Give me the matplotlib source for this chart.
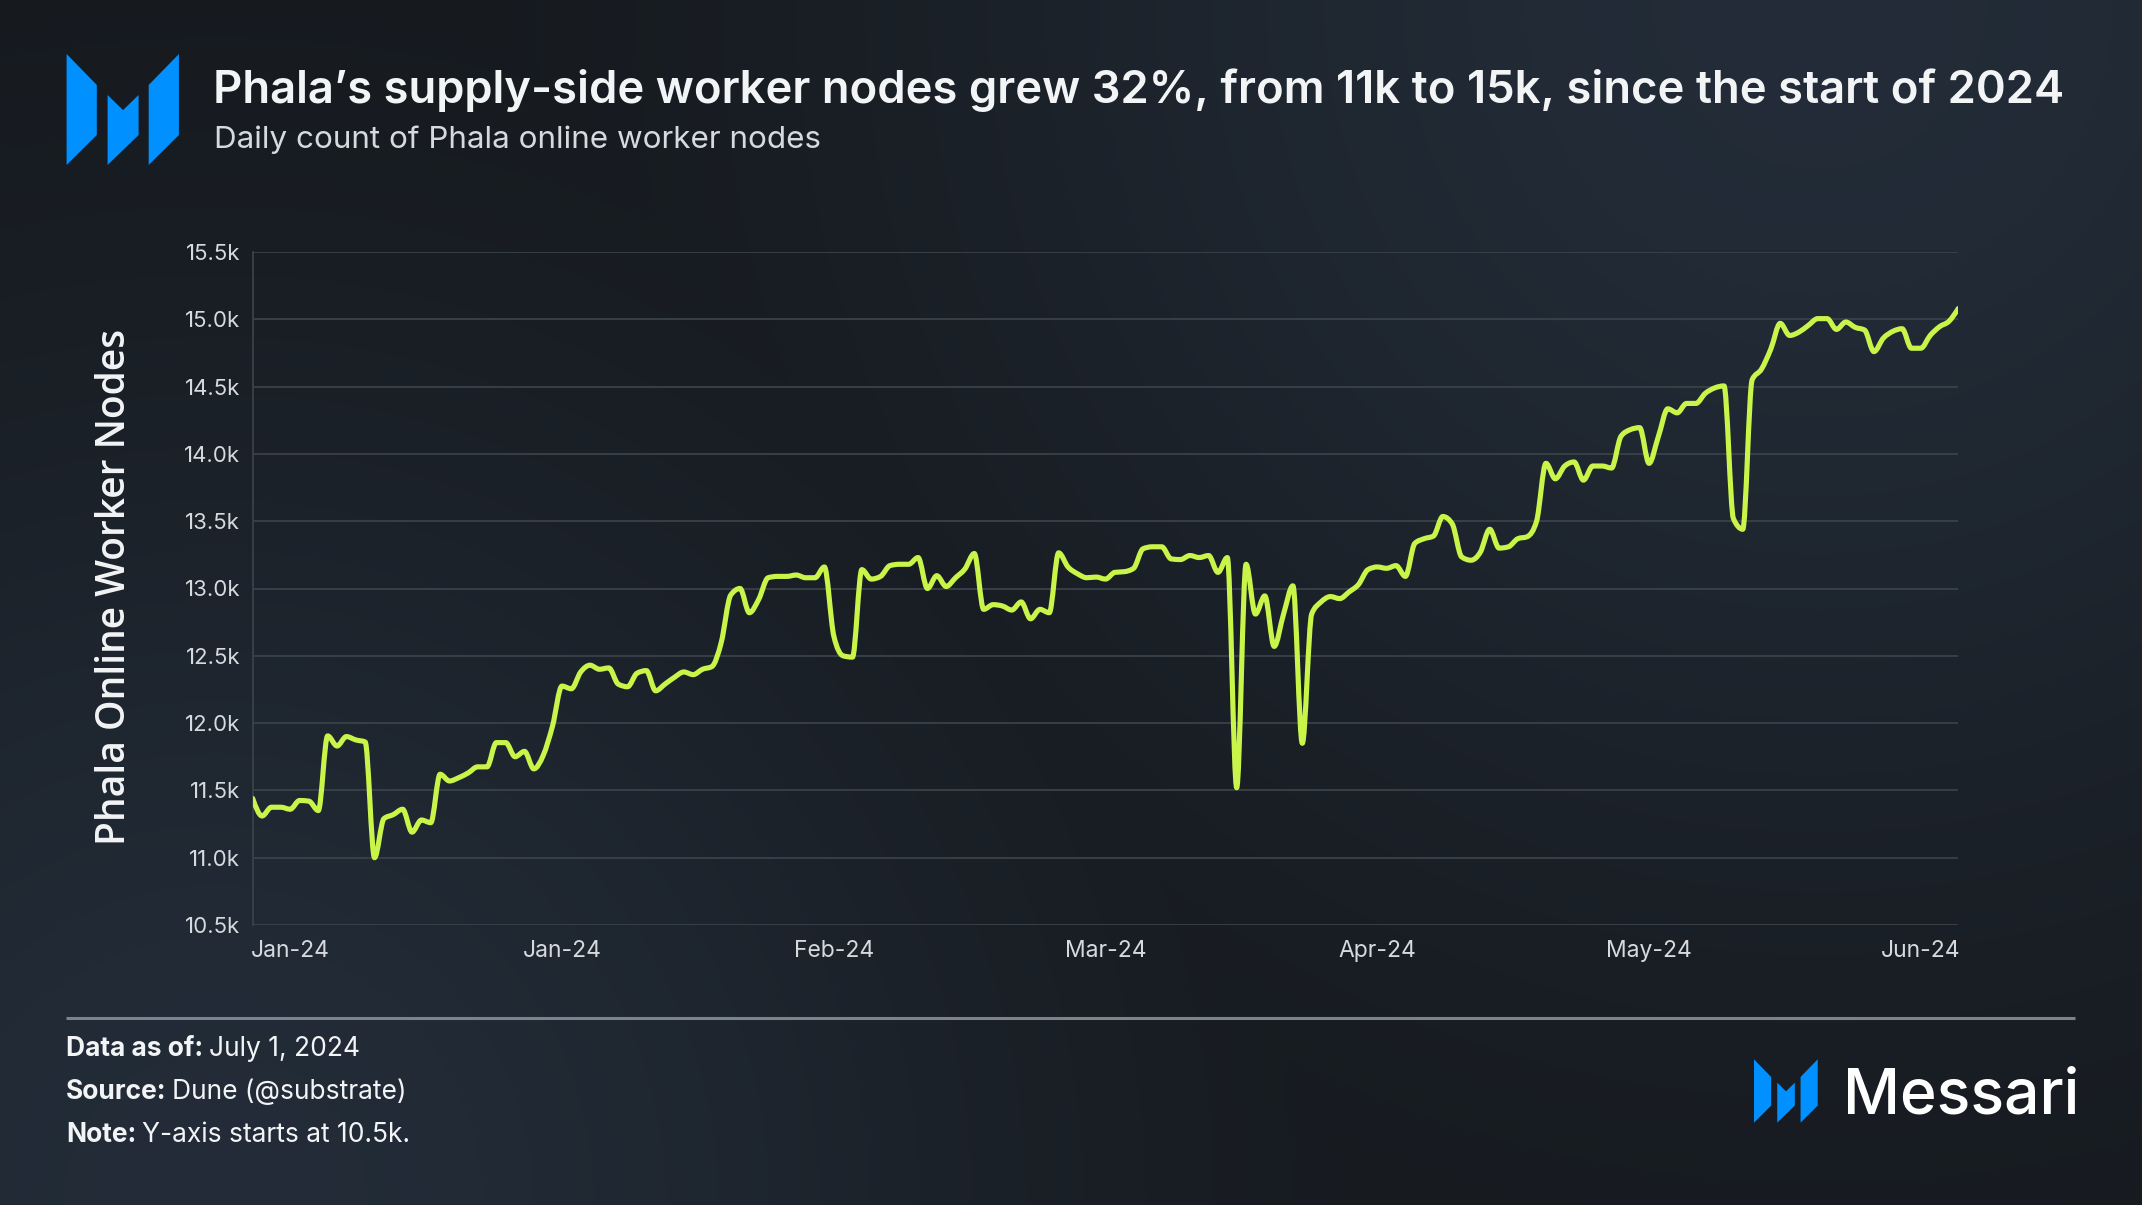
import numpy as np
import pandas as pd
import matplotlib
matplotlib.use("Agg")
import matplotlib.pyplot as plt
import matplotlib.dates as mdates
from matplotlib.patches import Polygon, PathPatch
from matplotlib.path import Path

# Daily count of Phala online worker nodes
nodes = [
    11440, 11310, 11375, 11375, 11360, 11425, 11420, 11350, 11905, 11830,
    11900, 11875, 11860, 11000, 11290, 11320, 11360, 11190, 11280, 11260,
    11620, 11570, 11595, 11630, 11675, 11675, 11855, 11855, 11750, 11790,
    11660, 11760, 11980, 12275, 12255, 12380, 12430, 12400, 12410, 12290,
    12270, 12370, 12390, 12240, 12290, 12340, 12380, 12360, 12400, 12420,
    12600, 12950, 13000, 12820, 12920, 13080, 13090, 13090, 13100, 13080,
    13080, 13160, 12650, 12500, 12490, 13140, 13070, 13090, 13170, 13180,
    13180, 13230, 13000, 13095, 13015, 13080, 13145, 13260, 12845, 12880,
    12870, 12840, 12900, 12775, 12845, 12820, 13265, 13160, 13110, 13080,
    13085, 13070, 13120, 13125, 13150, 13295, 13310, 13310, 13220, 13215,
    13245, 13230, 13245, 13120, 13230, 11520, 13180, 12810, 12945, 12570,
    12810, 13020, 11850, 12810, 12900, 12940, 12925, 12975, 13030, 13140,
    13160, 13150, 13170, 13090, 13335, 13370, 13390, 13535, 13480, 13235,
    13210, 13270, 13440, 13300, 13310, 13370, 13385, 13500, 13930, 13815,
    13910, 13940, 13805, 13910, 13910, 13895, 14130, 14180, 14195, 13930,
    14130, 14335, 14305, 14375, 14375, 14450, 14490, 14505, 13520, 13440,
    14550, 14630, 14780, 14970, 14880, 14905, 14955, 15005, 15005, 14925,
    14980, 14940, 14920, 14760, 14860, 14910, 14930, 14785, 14785, 14880,
    14945, 14985, 15080,
]
start_date = "2023-12-28"
tick_dates = ["2024-01-01", "2024-01-30", "2024-02-28", "2024-03-28",
              "2024-04-26", "2024-05-25", "2024-06-23"]
y_ticks = [10500, 11000, 11500, 12000, 12500, 13000, 13500, 14000, 14500, 15000, 15500]

TITLE = "Phala\u2019s supply-side worker nodes grew 32%, from 11k to 15k, since the start of 2024"
SUBTITLE = "Daily count of Phala online worker nodes"
Y_LABEL = "Phala Online Worker Nodes"
FOOTER = [("Data as of:", "July 1, 2024"),
          ("Source:", "Dune (@substrate)"),
          ("Note:", "Y-axis starts at 10.5k.")]

LIME = "#c9f54a"
BLUE = "#0090ff"
TEXT = "#f2f4f6"
TICK = "#d6dade"
GRID = "#3b4149"

W, H, DPI = 2142, 1205, 100
FONT = ["Inter", "DejaVu Sans"]

# logo shape, normalised to a unit box (y down)
LOGO = [
    [(0, 0), (0.269, 0.279), (0.269, 0.73), (0, 1.0)],
    [(0.365, 0.369), (0.503, 0.505), (0.641, 0.369), (0.641, 0.73), (0.365, 1.0)],
    [(0.731, 0.279), (1.0, 0), (1.0, 0.73), (0.731, 1.0)],
]


def draw_logo(canvas, x0, y0, w, h):
    for shape in LOGO:
        pts = [(x0 + px * w, y0 + py * h) for px, py in shape]
        canvas.add_patch(Polygon(pts, closed=True, facecolor=BLUE, edgecolor="none", zorder=2))


def monotone_path(x, y):
    """Smooth monotone-x cubic path through the points (like d3.curveMonotoneX)."""
    x = np.asarray(x, float)
    y = np.asarray(y, float)
    h = np.diff(x)
    s = np.diff(y) / h
    t = np.zeros_like(y)
    for i in range(1, len(y) - 1):
        p = (s[i - 1] * h[i] + s[i] * h[i - 1]) / (h[i - 1] + h[i])
        t[i] = (np.sign(s[i - 1]) + np.sign(s[i])) * min(abs(s[i - 1]), abs(s[i]), 0.5 * abs(p))
    t[0] = (3 * s[0] - t[1]) / 2
    t[-1] = (3 * s[-1] - t[-2]) / 2
    verts = [(x[0], y[0])]
    codes = [Path.MOVETO]
    for i in range(len(x) - 1):
        dx = h[i] / 3
        verts += [(x[i] + dx, y[i] + dx * t[i]), (x[i + 1] - dx, y[i + 1] - dx * t[i + 1]),
                  (x[i + 1], y[i + 1])]
        codes += [Path.CURVE4] * 3
    return Path(verts, codes)


fig = plt.figure(figsize=(W / DPI, H / DPI), dpi=DPI)

# full-figure canvas in pixel coordinates (y down) for background, logos and texts
canvas = fig.add_axes([0, 0, 1, 1], zorder=0)
canvas.set_xlim(0, W)
canvas.set_ylim(H, 0)
canvas.axis("off")

yy, xx = np.mgrid[0:1:300j, 0:1:540j]
aspect = W / H
blob1 = np.exp(-(((xx - 0.85) * aspect) ** 2 + (yy - 0.0) ** 2) / (2 * 0.55 ** 2))
blob2 = np.exp(-(((xx - 0.1) * aspect) ** 2 + (yy - 1.0) ** 2) / (2 * 0.5 ** 2))
t = np.clip(np.maximum(blob1, blob2), 0, 1)[..., None]
dark = np.array([0.082, 0.094, 0.110])
light = np.array([0.135, 0.172, 0.218])
canvas.imshow(dark + (light - dark) * t, extent=(0, W, H, 0), aspect="auto",
              interpolation="bicubic", zorder=0)

draw_logo(canvas, 66.6, 54, 112.3, 111)
canvas.text(213, 103, TITLE, fontsize=32.7, fontweight="semibold", color=TEXT,
            family=FONT, va="baseline", ha="left")
canvas.text(214, 148, SUBTITLE, fontsize=22.6, color=TICK, family=FONT,
            va="baseline", ha="left")

canvas.text(115, 587, Y_LABEL, rotation=90, family=["Open Sans", "DejaVu Sans"],
            fontsize=28, fontweight="semibold", color=TEXT, ha="center", va="center")

# separator
canvas.plot([66, 2075], [1018, 1018], color="#7d838a", lw=2.2, solid_capstyle="butt")

# footer notes
renderer = fig.canvas.get_renderer()
for i, (label, value) in enumerate(FOOTER):
    yb = 1056.5 + i * 42.7
    lab = canvas.text(66, yb, label, fontsize=19, fontweight="bold", color=TEXT,
                      family=FONT, va="baseline", ha="left")
    bb = lab.get_window_extent(renderer)
    canvas.text(bb.x1 + 6, yb, value, fontsize=19, color=TEXT, family=FONT,
                va="baseline", ha="left")

# footer brand
draw_logo(canvas, 1754, 1059.3, 63.7, 63.4)
canvas.text(1843, 1113, "Messari", fontsize=45, fontweight="medium", color="white",
            family=FONT, va="baseline", ha="left")

# chart
dates = pd.date_range(start_date, periods=len(nodes), freq="D")
left, right = 252.7, 1958.3
top, bottom = 252.0, 925.0
ax = fig.add_axes([left / W, 1 - bottom / H, (right - left) / W, (bottom - top) / H], zorder=1)
ax.patch.set_alpha(0)

ax.add_patch(PathPatch(monotone_path(mdates.date2num(dates), nodes), facecolor="none",
                       edgecolor=LIME, lw=3.7, joinstyle="round", capstyle="round", zorder=3))

ax.set_xlim(dates[0], dates[-1])
ax.set_ylim(y_ticks[0], y_ticks[-1])
ax.set_yticks(y_ticks)
ax.set_yticklabels([f"{v / 1000:.1f}k" for v in y_ticks], family=FONT, fontsize=16, color=TICK)
ax.set_xticks(pd.to_datetime(tick_dates))
ax.xaxis.set_major_formatter(mdates.DateFormatter("%b-%y"))
for lbl in ax.get_xticklabels():
    lbl.set_family(FONT)
    lbl.set_fontsize(16.5)
    lbl.set_color(TICK)

ax.grid(axis="y", color=GRID, lw=1.3, zorder=0)
ax.tick_params(axis="both", length=0)
ax.tick_params(axis="y", pad=9)
ax.tick_params(axis="x", pad=11)
for side in ("top", "right", "bottom"):
    ax.spines[side].set_visible(False)
ax.spines["left"].set_color(GRID)
ax.spines["left"].set_linewidth(1.3)

fig.savefig("out.png", dpi=DPI)
